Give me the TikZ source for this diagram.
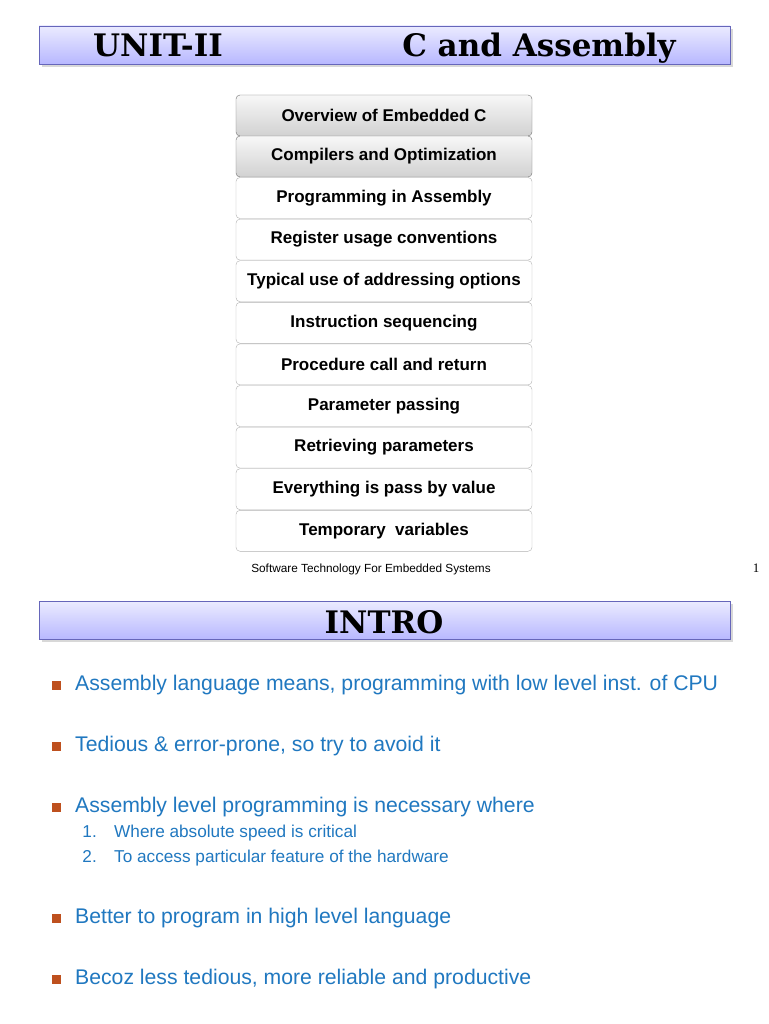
\documentclass[tikz,border=0pt]{standalone}
\usepackage{fontspec}
\usetikzlibrary{shadows}
\setmainfont{Liberation Sans}
\newfontfamily\slab{DejaVu Serif}
\newfontfamily\ser{Liberation Serif}
\definecolor{txtblue}{RGB}{32,120,192}
\definecolor{bulc}{RGB}{190,80,30}
\begin{document}
\begin{tikzpicture}[x=1pt,y=-1pt,
 bar/.style={draw=black!45!blue!60,line width=0.8pt,top color=blue!8,bottom color=blue!28,minimum width=691pt,minimum height=38pt,inner sep=0pt,drop shadow={opacity=0.3}},
 ttl/.style={font=\slab\bfseries\fontsize{31}{31}\selectfont,anchor=base,inner sep=0pt},
 tbox/.style={draw=black!30,rounded corners=4pt,fill=white,minimum width=296pt,minimum height=41pt,inner sep=0pt,font=\bfseries\fontsize{17}{17}\selectfont},
 gbox/.style={tbox,draw=black!55,top color=black!3,bottom color=black!18},
 bul/.style={fill=bulc,minimum size=9pt,inner sep=0pt},
 btxt/.style={anchor=base west,inner sep=0pt,text=txtblue,font=\fontsize{21.2}{21}\selectfont},
 stxt/.style={anchor=base west,inner sep=0pt,text=txtblue,font=\fontsize{17.2}{17}\selectfont},
 snum/.style={anchor=base east,inner sep=0pt,text=txtblue,font=\fontsize{17.2}{17}\selectfont}]
\useasboundingbox (0,0) rectangle (768,1024);
\fill[white] (0,0) rectangle (768,1024);
\node[bar] (b1) at (384.5,45) {};
\node[ttl] (u) at (158,57) {UNIT-II};
\node[ttl] (c) at (539,57) {C and Assembly};
\foreach \t [count=\i] in {Programming in Assembly,Register usage conventions,Typical use of addressing options,Instruction sequencing,Procedure call and return,Parameter passing,Retrieving parameters,Everything is pass by value,Temporary\ \ variables}
 \node[tbox] (t\i) at (384,{198+(\i-1)*41.6}) {\t};
\node[gbox] (g1) at (384,115.5) {Overview of Embedded C};
\node[gbox] (g2) at (384,156.5) {Compilers and Optimization};
\node[anchor=base,inner sep=0pt,font=\fontsize{11.8}{12}\selectfont] (f) at (371,572) {Software Technology For Embedded Systems};
\node[anchor=base,inner sep=0pt,font=\ser\fontsize{13}{13}\selectfont] (pn) at (756,572) {1};
\node[bar] (b2) at (384.5,620.5) {};
\node[ttl] (it) at (384,633) {INTRO};
\foreach \y/\t [count=\i] in {690/{Assembly language means, programming with low level inst. of CPU},751/{Tedious \& error-prone, so try to avoid it},812/{Assembly level programming is necessary where},923/{Better to program in high level language},984/{Becoz less tedious, more reliable and productive}}{
 \node[bul] (q\i) at (56,{\y-5}) {};
 \node[btxt] (l\i) at (75,\y) {\t};}
\node[snum] (n1) at (97,837) {1.};
\node[stxt] (s1) at (114,837) {Where absolute speed is critical};
\node[snum] (n2) at (97,862) {2.};
\node[stxt] (s2) at (114,862) {To access particular feature of the hardware};
\end{tikzpicture}
\end{document}
